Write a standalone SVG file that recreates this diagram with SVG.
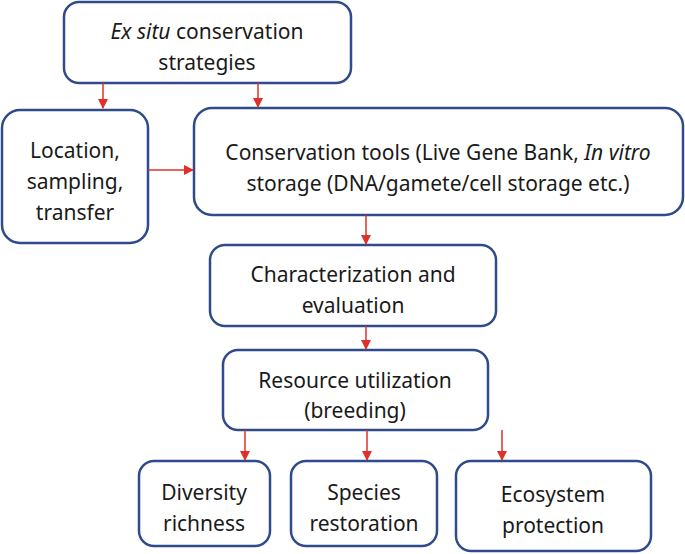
<svg xmlns="http://www.w3.org/2000/svg" width="685" height="554" viewBox="0 0 685 554">
<style>
.b{fill:#fff;stroke:#2F4B8C;stroke-width:2.5}
text{font-family:"Noto Sans","Open Sans",sans-serif;font-size:21px;fill:#1a1a1a;text-anchor:middle}
.c line{stroke:#E0302A;stroke-width:1.5;marker-end:url(#a)}
</style>
<defs><marker id="a" markerWidth="10" markerHeight="10" refX="9" refY="5" orient="auto" markerUnits="userSpaceOnUse"><path d="M0,0L10,5L0,10Z" fill="#E0302A"/></marker></defs>
<g id="n1"><rect class="b" x="64" y="2" width="287" height="81" rx="15"/><text x="207" y="39"><tspan font-style="italic">Ex situ</tspan> conservation</text><text x="207" y="70">strategies</text></g>
<g id="n2"><rect class="b" x="2" y="110" width="146" height="133" rx="18"/><text x="75" y="158">Location,</text><text x="75" y="189">sampling,</text><text x="75" y="220">transfer</text></g>
<g id="n3"><rect class="b" x="194" y="108" width="489" height="107" rx="18"/><text x="438" y="160">Conservation tools (Live Gene Bank, <tspan font-style="italic">In vitro</tspan></text><text x="438" y="191">storage (DNA/gamete/cell storage etc.)</text></g>
<g id="n4"><rect class="b" x="210" y="245" width="286" height="81" rx="15"/><text x="353" y="282">Characterization and</text><text x="353" y="313">evaluation</text></g>
<g id="n5"><rect class="b" x="223" y="350" width="265" height="80" rx="15"/><text x="355" y="388">Resource utilization</text><text x="355" y="418">(breeding)</text></g>
<g id="n6"><rect class="b" x="139" y="461" width="131" height="85" rx="15"/><text x="204" y="500">Diversity</text><text x="204" y="531">richness</text></g>
<g id="n7"><rect class="b" x="291" y="461" width="146" height="85" rx="15"/><text x="364" y="500">Species</text><text x="364" y="531">restoration</text></g>
<g id="n8"><rect class="b" x="456" y="461" width="195" height="90" rx="15"/><text x="553" y="502">Ecosystem</text><text x="553" y="533">protection</text></g>
<g class="c" id="connectors">
<line x1="103" y1="83" x2="103" y2="108"/><line x1="258" y1="83" x2="258" y2="107"/>
<line x1="148" y1="170" x2="193" y2="170"/><line x1="366" y1="215" x2="366" y2="244"/>
<line x1="366" y1="326" x2="366" y2="349"/><line x1="245" y1="430" x2="245" y2="460"/>
<line x1="367" y1="430" x2="367" y2="460"/><line x1="502" y1="430" x2="502" y2="460"/>
</g>
</svg>
